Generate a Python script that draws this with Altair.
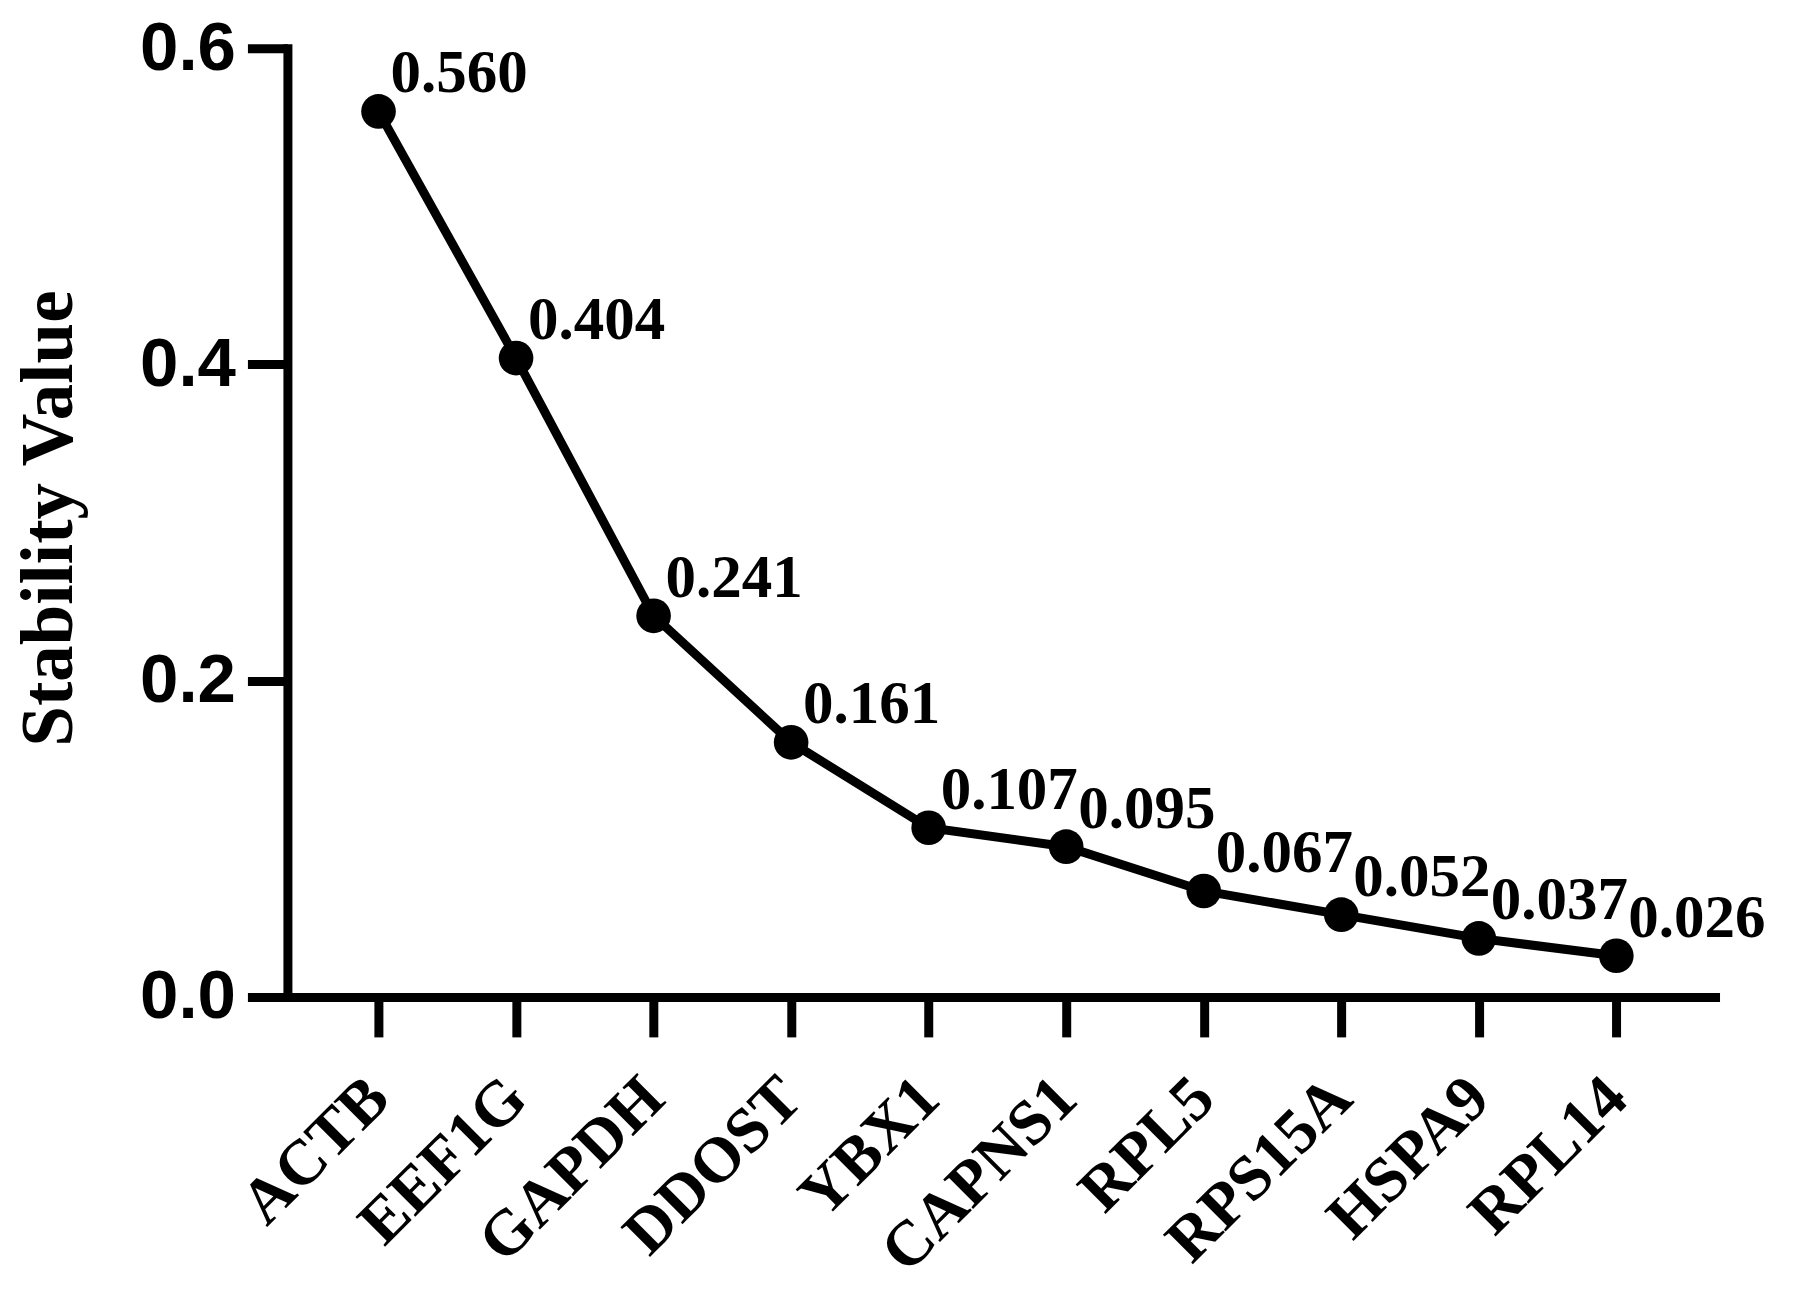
import altair as alt
import pandas as pd

genes = ["ACTB", "EEF1G", "GAPDH", "DDOST", "YBX1", "CAPNS1", "RPL5", "RPS15A", "HSPA9", "RPL14"]
values = [0.560, 0.404, 0.241, 0.161, 0.107, 0.095, 0.067, 0.052, 0.037, 0.026]
value_labels = ["0.560", "0.404", "0.241", "0.161", "0.107", "0.095", "0.067", "0.052", "0.037", "0.026"]
y_ticks = [0.0, 0.2, 0.4, 0.6]

df = pd.DataFrame({"gene": genes, "value": values, "label": value_labels})

x_enc = alt.X(
    "gene:N",
    sort=genes,
    title=None,
    scale=alt.Scale(type="point", padding=0.69, align=0.48),
    axis=alt.Axis(
        labelAngle=-45,
        labelAlign="right",
        labelBaseline="middle",
        labelPadding=51,
        labelLimit=0,
        labelFont="Liberation Serif",
        labelFontWeight="bold",
        labelFontSize=64,
        labelColor="black",
        labelOverlap=False,
        tickSize=40,
        tickWidth=9,
        tickColor="black",
        domainWidth=9,
        domainColor="black",
        domainCap="square",
        grid=False,
    ),
)

y_enc = alt.Y(
    "value:Q",
    title="Stability Value",
    scale=alt.Scale(domain=[0, 0.6], nice=False, zero=True),
    axis=alt.Axis(
        values=y_ticks,
        format=".1f",
        labelFont="Liberation Sans",
        labelFontWeight="bold",
        labelFontSize=69,
        labelColor="black",
        labelPadding=12,
        tickSize=40,
        tickWidth=9,
        tickColor="black",
        domainWidth=9,
        domainColor="black",
        domainCap="square",
        grid=False,
        titleFont="Liberation Serif",
        titleFontWeight="bold",
        titleFontSize=73,
        titleColor="black",
        titleX=-216,
        titleY=470,
        titleAngle=270,
        titleAlign="center",
        titleBaseline="alphabetic",
        titleLimit=0,
    ),
)

base = alt.Chart(df).encode(x=x_enc, y=y_enc)

line = base.mark_line(color="black", strokeWidth=9)
dots = base.mark_circle(color="black", size=1200, opacity=1)
texts = base.mark_text(
    align="left",
    baseline="middle",
    dx=12,
    dy=-37,
    font="Liberation Serif",
    fontWeight="bold",
    fontSize=61,
    color="black",
).encode(text="label:N")

chart = (
    alt.layer(line, dots, texts)
    .properties(
        width=1428,
        height=949,
        autosize=alt.AutoSizeParams(type="none"),
        padding={"left": 279.5, "top": 40, "right": 92, "bottom": 301},
        background="white",
    )
    .configure_view(stroke=None)
)

chart.save("out.html", embed_options={"renderer": "svg", "actions": False})
